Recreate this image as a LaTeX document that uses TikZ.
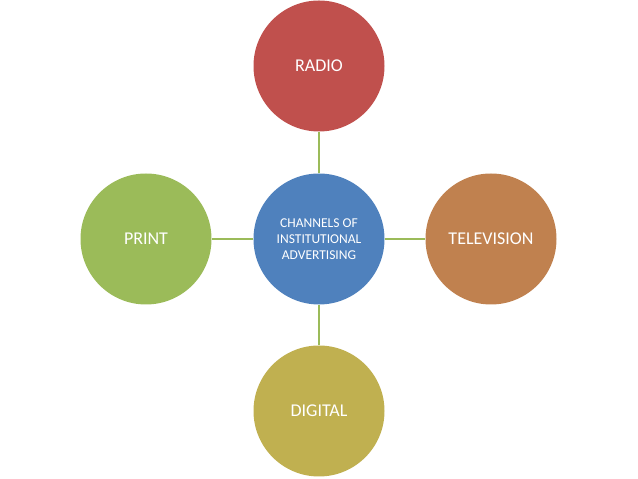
\documentclass[tikz,border=0pt]{standalone}
\usepackage{fontspec}
\setmainfont{Carlito}
\definecolor{cred}{HTML}{C0504D}
\definecolor{cblue}{HTML}{4F81BD}
\definecolor{cgreen}{HTML}{9BBB59}
\definecolor{corange}{HTML}{C0814F}
\definecolor{colive}{HTML}{C0B050}
\begin{document}
\begin{tikzpicture}[x=1pt,y=1pt,
  ball/.style={circle,minimum size=131pt,inner sep=0pt,text=white,font=\fontsize{18}{21}\selectfont,align=center},
  link/.style={draw=cgreen,line width=1.3pt}]
\useasboundingbox (0,0) rectangle (638,479);
\node[ball,fill=cblue,font=\fontsize{13.5}{16}\selectfont] (c) at (319,240) {CHANNELS OF\\INSTITUTIONAL\\ADVERTISING};
\node[ball,fill=cred] (r) at (319,413) {RADIO};
\node[ball,fill=cgreen] (p) at (146,240) {PRINT};
\node[ball,fill=corange] (t) at (491,240) {TELEVISION};
\node[ball,fill=colive] (d) at (319,68) {DIGITAL};
\draw[link] (c) -- (r);
\draw[link] (c) -- (p);
\draw[link] (c) -- (t);
\draw[link] (c) -- (d);
\end{tikzpicture}
\end{document}
